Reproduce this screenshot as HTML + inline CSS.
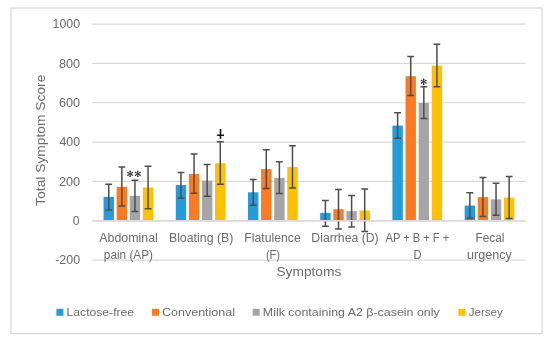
<!DOCTYPE html>
<html><head><meta charset="utf-8"><style>
html,body{margin:0;padding:0;background:#fff;}
body{width:550px;height:340px;overflow:hidden;position:relative;}
svg{position:absolute;left:0;top:0;will-change:transform;}
text{font-family:"Liberation Sans",sans-serif;fill:#6a6a6a;}
.tk{font-size:12.1px;}
.xl{font-size:12px;}
.at{font-size:13.2px;}
.lg{font-size:11.8px;}
</style></head><body>
<svg width="550" height="340" viewBox="0 0 550 340">
<rect x="11" y="8" width="531" height="325.6" fill="#fff" stroke="#d9d9d9" stroke-width="1.3"/>
<line x1="92.3" y1="24.05" x2="525.6" y2="24.05" stroke="#d9d9d9" stroke-width="1.2"/>
<line x1="92.3" y1="63.4" x2="525.6" y2="63.4" stroke="#d9d9d9" stroke-width="1.2"/>
<line x1="92.3" y1="102.75" x2="525.6" y2="102.75" stroke="#d9d9d9" stroke-width="1.2"/>
<line x1="92.3" y1="142.1" x2="525.6" y2="142.1" stroke="#d9d9d9" stroke-width="1.2"/>
<line x1="92.3" y1="181.45" x2="525.6" y2="181.45" stroke="#d9d9d9" stroke-width="1.2"/>
<line x1="92.3" y1="220.8" x2="525.6" y2="220.8" stroke="#d9d9d9" stroke-width="1.2"/>
<line x1="92.3" y1="260.15" x2="525.6" y2="260.15" stroke="#d9d9d9" stroke-width="1.2"/>
<rect x="103.54" y="196.9" width="10.4" height="23.7" fill="#259BD9"/>
<rect x="116.64" y="186.8" width="10.4" height="33.8" fill="#FB7B23"/>
<rect x="129.74" y="195.9" width="10.4" height="24.7" fill="#A5A5A5"/>
<rect x="142.84" y="187.5" width="10.4" height="33.1" fill="#FFC000"/>
<rect x="175.76" y="185" width="10.4" height="35.6" fill="#259BD9"/>
<rect x="188.86" y="174" width="10.4" height="46.6" fill="#FB7B23"/>
<rect x="201.96" y="180.6" width="10.4" height="40" fill="#A5A5A5"/>
<rect x="215.06" y="163.2" width="10.4" height="57.4" fill="#FFC000"/>
<rect x="247.98" y="192.3" width="10.4" height="28.3" fill="#259BD9"/>
<rect x="261.08" y="169.1" width="10.4" height="51.5" fill="#FB7B23"/>
<rect x="274.18" y="177.9" width="10.4" height="42.7" fill="#A5A5A5"/>
<rect x="287.28" y="167.1" width="10.4" height="53.5" fill="#FFC000"/>
<rect x="320.2" y="212.9" width="10.4" height="7.7" fill="#259BD9"/>
<rect x="333.3" y="209.2" width="10.4" height="11.4" fill="#FB7B23"/>
<rect x="346.4" y="211.2" width="10.4" height="9.4" fill="#A5A5A5"/>
<rect x="359.5" y="210.5" width="10.4" height="10.1" fill="#FFC000"/>
<rect x="392.42" y="125.6" width="10.4" height="95" fill="#259BD9"/>
<rect x="405.52" y="76.2" width="10.4" height="144.4" fill="#FB7B23"/>
<rect x="418.62" y="103" width="10.4" height="117.6" fill="#A5A5A5"/>
<rect x="431.72" y="65.6" width="10.4" height="155" fill="#FFC000"/>
<rect x="464.64" y="205.6" width="10.4" height="15" fill="#259BD9"/>
<rect x="477.74" y="197.1" width="10.4" height="23.5" fill="#FB7B23"/>
<rect x="490.84" y="199.4" width="10.4" height="21.2" fill="#A5A5A5"/>
<rect x="503.94" y="197.6" width="10.4" height="23" fill="#FFC000"/>
<path d="M108.74 184.3V210.1M105.34 184.3H112.14M105.34 210.1H112.14" stroke="#4d4d4d" stroke-width="1.5" fill="none"/>
<path d="M121.84 167V205.9M118.44 167H125.24M118.44 205.9H125.24" stroke="#4d4d4d" stroke-width="1.5" fill="none"/>
<path d="M134.94 180.3V211.6M131.54 180.3H138.34M131.54 211.6H138.34" stroke="#4d4d4d" stroke-width="1.5" fill="none"/>
<path d="M148.04 166.3V208.7M144.64 166.3H151.44M144.64 208.7H151.44" stroke="#4d4d4d" stroke-width="1.5" fill="none"/>
<path d="M180.96 172.4V198.2M177.56 172.4H184.36M177.56 198.2H184.36" stroke="#4d4d4d" stroke-width="1.5" fill="none"/>
<path d="M194.06 154.1V193.2M190.66 154.1H197.46M190.66 193.2H197.46" stroke="#4d4d4d" stroke-width="1.5" fill="none"/>
<path d="M207.16 164.5V196.3M203.76 164.5H210.56M203.76 196.3H210.56" stroke="#4d4d4d" stroke-width="1.5" fill="none"/>
<path d="M220.26 141.8V184.3M216.86 141.8H223.66M216.86 184.3H223.66" stroke="#4d4d4d" stroke-width="1.5" fill="none"/>
<path d="M253.18 179.5V205.3M249.78 179.5H256.58M249.78 205.3H256.58" stroke="#4d4d4d" stroke-width="1.5" fill="none"/>
<path d="M266.28 149.7V188.5M262.88 149.7H269.68M262.88 188.5H269.68" stroke="#4d4d4d" stroke-width="1.5" fill="none"/>
<path d="M279.38 161.8V193.4M275.98 161.8H282.78M275.98 193.4H282.78" stroke="#4d4d4d" stroke-width="1.5" fill="none"/>
<path d="M292.48 145.7V188.1M289.08 145.7H295.88M289.08 188.1H295.88" stroke="#4d4d4d" stroke-width="1.5" fill="none"/>
<path d="M325.4 200.6V226.2M322 200.6H328.8M322 226.2H328.8" stroke="#4d4d4d" stroke-width="1.5" fill="none"/>
<path d="M338.5 189.6V228.9M335.1 189.6H341.9M335.1 228.9H341.9" stroke="#4d4d4d" stroke-width="1.5" fill="none"/>
<path d="M351.6 195.5V227.1M348.2 195.5H355M348.2 227.1H355" stroke="#4d4d4d" stroke-width="1.5" fill="none"/>
<path d="M364.7 189.1V231.6M361.3 189.1H368.1M361.3 231.6H368.1" stroke="#4d4d4d" stroke-width="1.5" fill="none"/>
<path d="M397.62 112.7V138.2M394.22 112.7H401.02M394.22 138.2H401.02" stroke="#4d4d4d" stroke-width="1.5" fill="none"/>
<path d="M410.72 56.4V95.5M407.32 56.4H414.12M407.32 95.5H414.12" stroke="#4d4d4d" stroke-width="1.5" fill="none"/>
<path d="M423.82 86.8V118.5M420.42 86.8H427.22M420.42 118.5H427.22" stroke="#4d4d4d" stroke-width="1.5" fill="none"/>
<path d="M436.92 44.2V86.8M433.52 44.2H440.32M433.52 86.8H440.32" stroke="#4d4d4d" stroke-width="1.5" fill="none"/>
<path d="M469.84 192.7V217.9M466.44 192.7H473.24M466.44 217.9H473.24" stroke="#4d4d4d" stroke-width="1.5" fill="none"/>
<path d="M482.94 177.5V216.5M479.54 177.5H486.34M479.54 216.5H486.34" stroke="#4d4d4d" stroke-width="1.5" fill="none"/>
<path d="M496.04 183.2V215.3M492.64 183.2H499.44M492.64 215.3H499.44" stroke="#4d4d4d" stroke-width="1.5" fill="none"/>
<path d="M509.14 176.5V218.6M505.74 176.5H512.54M505.74 218.6H512.54" stroke="#4d4d4d" stroke-width="1.5" fill="none"/>
<g fill="#222"><path d="M130.15 176.45L130.15 171.25M127.9 175.15L132.4 172.55M132.4 175.15L127.9 172.55" stroke="#333" stroke-width="1.0" fill="none"/><circle cx="130.15" cy="176.45" r="0.75"/><circle cx="130.15" cy="171.25" r="0.75"/><circle cx="127.9" cy="175.15" r="0.75"/><circle cx="132.4" cy="172.55" r="0.75"/><circle cx="132.4" cy="175.15" r="0.75"/><circle cx="127.9" cy="172.55" r="0.75"/></g>
<g fill="#222"><path d="M137.8 176.45L137.8 171.25M135.55 175.15L140.05 172.55M140.05 175.15L135.55 172.55" stroke="#333" stroke-width="1.0" fill="none"/><circle cx="137.8" cy="176.45" r="0.75"/><circle cx="137.8" cy="171.25" r="0.75"/><circle cx="135.55" cy="175.15" r="0.75"/><circle cx="140.05" cy="172.55" r="0.75"/><circle cx="140.05" cy="175.15" r="0.75"/><circle cx="135.55" cy="172.55" r="0.75"/></g>
<g fill="#222"><path d="M423.7 84.35L423.7 79.15M421.45 83.05L425.95 80.45M425.95 83.05L421.45 80.45" stroke="#333" stroke-width="1.0" fill="none"/><circle cx="423.7" cy="84.35" r="0.75"/><circle cx="423.7" cy="79.15" r="0.75"/><circle cx="421.45" cy="83.05" r="0.75"/><circle cx="425.95" cy="80.45" r="0.75"/><circle cx="425.95" cy="83.05" r="0.75"/><circle cx="421.45" cy="80.45" r="0.75"/></g>
<path d="M220.5 129.1V138.8M217.1 135.3H224" stroke="#111" stroke-width="1.55" fill="none"/>
<line x1="92.3" y1="220.8" x2="525.6" y2="220.8" stroke="#d9d9d9" stroke-width="1.5"/>
<text x="52.62" y="28.15" textLength="27.48" lengthAdjust="spacingAndGlyphs" class="tk">1000</text>
<text x="58.9" y="67.5" textLength="21.2" lengthAdjust="spacingAndGlyphs" class="tk">800</text>
<text x="58.9" y="106.85" textLength="21.2" lengthAdjust="spacingAndGlyphs" class="tk">600</text>
<text x="59.5" y="146.2" textLength="20.6" lengthAdjust="spacingAndGlyphs" class="tk">400</text>
<text x="58.9" y="185.55" textLength="21.2" lengthAdjust="spacingAndGlyphs" class="tk">200</text>
<text x="72.68" y="224.9" textLength="6.82" lengthAdjust="spacingAndGlyphs" class="tk">0</text>
<text x="55.18" y="264.25" textLength="24.92" lengthAdjust="spacingAndGlyphs" class="tk">-200</text>
<text x="99.34" y="242.4" textLength="58.48" lengthAdjust="spacingAndGlyphs" class="xl">Abdominal</text>
<text x="103.84" y="258.5" textLength="49.22" lengthAdjust="spacingAndGlyphs" class="xl">pain (AP)</text>
<text x="168.9" y="242.4" textLength="64.52" lengthAdjust="spacingAndGlyphs" class="xl">Bloating (B)</text>
<text x="244.34" y="242.4" textLength="56.42" lengthAdjust="spacingAndGlyphs" class="xl">Flatulence</text>
<text x="265.96" y="258.5" textLength="14.08" lengthAdjust="spacingAndGlyphs" class="xl">(F)</text>
<text x="311.36" y="242.4" textLength="67.24" lengthAdjust="spacingAndGlyphs" class="xl">Diarrhea (D)</text>
<text x="385.5" y="242.4" textLength="63.68" lengthAdjust="spacingAndGlyphs" class="xl">AP + B + F +</text>
<text x="413.4" y="258.5" textLength="8.2" lengthAdjust="spacingAndGlyphs" class="xl">D</text>
<text x="475.4" y="242.4" textLength="29.02" lengthAdjust="spacingAndGlyphs" class="xl">Fecal</text>
<text x="467.12" y="258.5" textLength="44.64" lengthAdjust="spacingAndGlyphs" class="xl">urgency</text>
<text x="276.4" y="276.2" textLength="64.92" lengthAdjust="spacingAndGlyphs" class="at">Symptoms</text>
<text x="66.62" y="315.5" textLength="67.42" lengthAdjust="spacingAndGlyphs" class="lg">Lactose-free</text>
<text x="161.9" y="315.5" textLength="73.2" lengthAdjust="spacingAndGlyphs" class="lg">Conventional</text>
<text x="262.84" y="315.5" textLength="176.92" lengthAdjust="spacingAndGlyphs" class="lg">Milk containing A2 β-casein only</text>
<text x="468.74" y="315.5" textLength="34.08" lengthAdjust="spacingAndGlyphs" class="lg">Jersey</text>
<text transform="translate(44.6 0) rotate(-90)" x="-205.72" y="0" textLength="131.1" lengthAdjust="spacingAndGlyphs" class="at">Total Symptom Score</text>
<rect x="56.4" y="308.8" width="7" height="7" fill="#259BD9"/>
<rect x="152" y="308.8" width="7" height="7" fill="#FB7B23"/>
<rect x="252.7" y="308.8" width="7" height="7" fill="#A5A5A5"/>
<rect x="458.4" y="308.8" width="7" height="7" fill="#FFC000"/>
</svg>
</body></html>
